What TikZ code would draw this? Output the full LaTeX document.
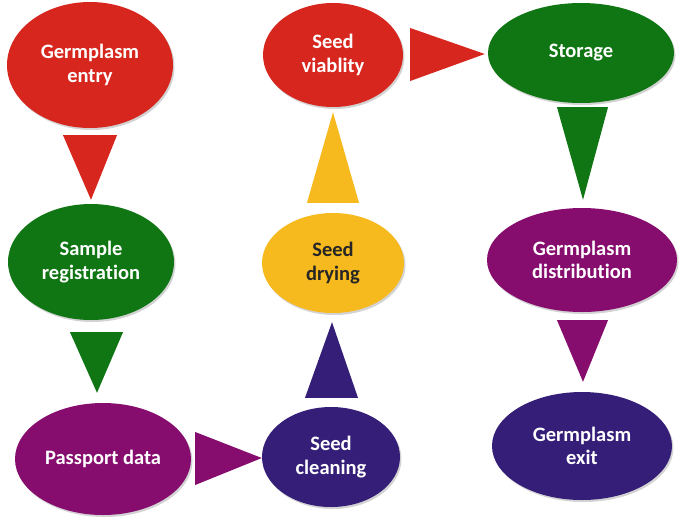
\documentclass[tikz,border=0pt]{standalone}
\usepackage{fontspec}
\setmainfont[Ligatures=NoCommon]{Carlito}
\usetikzlibrary{shapes.geometric,calc,shadows}
\definecolor{cred}{RGB}{215,38,30}
\definecolor{cgreen}{RGB}{16,118,20}
\definecolor{cpurple}{RGB}{134,12,110}
\definecolor{cnavy}{RGB}{52,30,120}
\definecolor{cyellow}{RGB}{246,186,30}
\tikzset{
  stage/.style={ellipse, inner sep=0pt, align=center,
    font=\fontsize{20.5}{23.5}\selectfont\bfseries, text=white,
    drop shadow={shadow xshift=1.5pt, shadow yshift=-2pt, opacity=0.35}}
}
\begin{document}
\begin{tikzpicture}[x=1pt,y=-1pt]
\useasboundingbox (0,0) rectangle (685,528);
% stages
\node[stage, fill=cred, minimum width=166pt, minimum height=126pt] (GE) at (90,65) {Germplasm\\entry};
\node[stage, fill=cgreen, minimum width=166pt, minimum height=116pt] (SR) at (91,262) {Sample\\registration};
\node[stage, fill=cpurple, minimum width=176pt, minimum height=112pt] (PD) at (103,459) {Passport data};
\node[stage, fill=cnavy, minimum width=138pt, minimum height=100pt] (SC) at (331,457) {Seed\\cleaning};
\node[stage, fill=cyellow, text=black!85, minimum width=142pt, minimum height=100pt] (SD) at (333,263) {Seed\\drying};
\node[stage, fill=cred, minimum width=140pt, minimum height=104pt] (SV) at (333,55) {Seed\\viablity};
\node[stage, fill=cgreen, minimum width=186pt, minimum height=100pt] (ST) at (581,53) {Storage};
\node[stage, fill=cpurple, minimum width=190pt, minimum height=104pt] (GD) at (582,260) {Germplasm\\distribution};
\node[stage, fill=cnavy, minimum width=180pt, minimum height=108pt] (GX) at (582,446) {Germplasm\\exit};
% triangle connectors
\fill[cred] ($(GE.south)+(-27,7)$) -- ($(GE.south)+(27,7)$) -- ($(SR.north)+(0,-4)$) -- cycle;
\fill[cgreen] ($(SR.south)+(-21,12)$) -- ($(SR.south)+(32,12)$) -- ($(PD.north)+(-6,-10)$) -- cycle;
\fill[cpurple] ($(PD.east)+(4,-27)$) -- ($(PD.east)+(4,26)$) -- ($(SC.west)+(0,1)$) -- cycle;
\fill[cnavy] ($(SC.north)+(-26,-9)$) -- ($(SC.north)+(27,-9)$) -- ($(SD.south)+(-1,9)$) -- cycle;
\fill[cyellow] ($(SD.north)+(-26,-10)$) -- ($(SD.north)+(26,-10)$) -- ($(SV.south)+(0,5)$) -- cycle;
\fill[cred] ($(SV.east)+(7,-27)$) -- ($(SV.east)+(7,26)$) -- ($(ST.west)+(-3,1)$) -- cycle;
\fill[cgreen] ($(ST.south)+(-24,4)$) -- ($(ST.south)+(27,4)$) -- ($(GD.north)+(1,-8)$) -- cycle;
\fill[cpurple] ($(GD.south)+(-25,8)$) -- ($(GD.south)+(26,8)$) -- ($(GX.north)+(1,-10)$) -- cycle;
\end{tikzpicture}
\end{document}
